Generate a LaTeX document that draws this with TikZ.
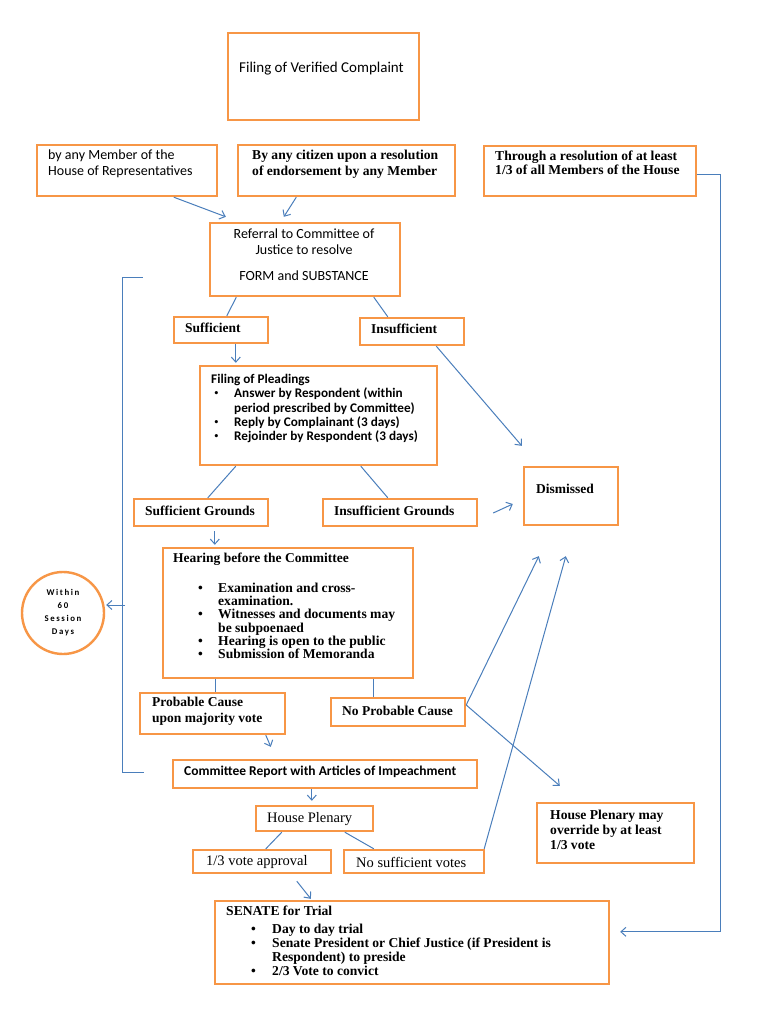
\documentclass[tikz,border=0pt]{standalone}
\usepackage{fontspec}
\setmainfont{Liberation Serif}
\newfontfamily\carlito{Carlito}
\usetikzlibrary{arrows.meta,calc,fit}
\definecolor{obox}{HTML}{F79646}
\definecolor{bline}{HTML}{4A7EBB}
\newcommand\fs[2]{\fontsize{#1}{#2}\selectfont}
\newcommand\bul[1]{\makebox[#1][l]{\textbullet}}
\newcommand\sbul[1]{\makebox[#1][l]{{\rmfamily\mdseries\textbullet}}}
\tikzset{
  box/.style={draw=obox, line width=2.4pt, inner sep=0pt},
  conn/.style={draw=bline, line width=1pt},
  arr/.style={conn, -{Straight Barb[length=5pt,width=9pt]}},
  txt/.style={anchor=west, inner sep=0pt, align=left},
}
\begin{document}
\begin{tikzpicture}[x=1pt,y=-1pt]
\fill[white] (0,0) rectangle (768,1024);
\useasboundingbox (0,0) rectangle (768,1024);

% ---------------- boxes ----------------
\node[box, fit={(228,33)(419,120)}] (fvc) {};
\node[box, fit={(37,145)(217,196)}] (m1) {};
\node[box, fit={(238,145)(455,196)}] (m2) {};
\node[box, fit={(484,146)(696,196)}] (m3) {};
\node[box, fit={(210,223)(400,296)}] (ref) {};
\node[box, fit={(174,317)(268,343)}] (suf) {};
\node[box, fit={(360,318)(464,345)}] (ins) {};
\node[box, fit={(200,366)(437,465)}] (plead) {};
\node[box, fit={(134,499)(268,526)}] (sg) {};
\node[box, fit={(323,499)(477,526)}] (ig) {};
\node[box, fit={(524,467)(618,525)}] (dis) {};
\node[box, fit={(163,548)(413,678)}] (hear) {};
\node[box, fit={(140,693)(285,734)}] (pc) {};
\node[box, fit={(331,698)(465,726)}] (npc) {};
\node[box, fit={(173,760)(477,788)}] (cr) {};
\node[box, fit={(256,806)(373,831)}] (hp) {};
\node[box, fit={(193,850)(331,873)}] (va) {};
\node[box, fit={(344,850)(484,873)}] (nsv) {};
\node[box, fit={(537,803)(694,863)}] (ovr) {};
\node[box, fit={(215,901)(609,984)}] (sen) {};
\node[circle, draw=obox, line width=2.4pt, minimum size=82pt, inner sep=0pt,
      align=center, font=\carlito\bfseries\addfontfeature{LetterSpace=18}\fs{8.8}{13}]
      (circ) at (63,613) {Within\\60\\Session\\Days};

% ---------------- texts ----------------
\node[txt, font=\carlito\fs{15}{17}] (tfvc) at (239,69) {Filing of Verified Complaint};
\node[txt, font=\carlito\fs{14}{16}] (tm1) at (48,164) {by any Member of the\\House of Representatives};
\node[txt, font=\bfseries\fs{13.6}{16}] (tm2) at (252,164) {By any citizen upon a resolution\\of endorsement by any Member};
\node[txt, font=\bfseries\fs{13.6}{12.5}] (tm3) at (495,163) {Through a resolution of at least\\1/3 of all Members of the House};
\node[align=center, inner sep=0pt, font=\carlito\fs{14}{16}] (tref) at (304,255)
     {Referral to Committee of\\Justice to resolve\\[10pt]FORM and SUBSTANCE};
\node[txt, font=\bfseries\fs{13.5}{16}] (tsuf) at (185,328) {Sufficient};
\node[txt, font=\bfseries\fs{13.5}{16}] (tins) at (371,329) {Insufficient};
\node[txt, font=\carlito\bfseries\fs{13.2}{14.3}] (tplead) at (211,408.5)
     {Filing of Pleadings\\
      \hspace*{3pt}\sbul{20pt}Answer by Respondent (within\\
      \hspace*{23pt}period prescribed by Committee)\\
      \hspace*{3pt}\sbul{20pt}Reply by Complainant (3 days)\\
      \hspace*{3pt}\sbul{20pt}Rejoinder by Respondent (3 days)};
\node[txt, font=\bfseries\fs{13.5}{16}] (tsg) at (145,511) {Sufficient Grounds};
\node[txt, font=\bfseries\fs{13.5}{16}] (tig) at (334,511) {Insufficient Grounds};
\node[txt, font=\bfseries\fs{13.5}{16}] (tdis) at (536,489) {Dismissed};
\node[txt, font=\bfseries\fs{13.5}{16}] (thear) at (173,559) {Hearing before the Committee};
\node[txt, font=\bfseries\fs{13.6}{13.3}] (thearb) at (198,621)
     {\bul{20pt}Examination and cross-\\
      \hspace*{20pt}examination.\\
      \bul{20pt}Witnesses and documents may\\
      \hspace*{20pt}be subpoenaed\\
      \bul{20pt}Hearing is open to the public\\
      \bul{20pt}Submission of Memoranda};
\node[txt, font=\bfseries\fs{13.5}{16}] (tpc) at (152,711) {Probable Cause\\upon majority vote};
\node[txt, font=\bfseries\fs{13.5}{16}] (tnpc) at (342,711) {No Probable Cause};
\node[txt, font=\carlito\bfseries\fs{13.5}{16}] (tcr) at (184,772) {Committee Report with Articles of Impeachment};
\node[txt, font=\fs{14.5}{16}] (thp) at (267,819) {House Plenary};
\node[txt, font=\fs{14.5}{16}] (tva) at (206,862) {1/3 vote approval};
\node[txt, font=\fs{14.5}{16}] (tnsv) at (356,862) {No sufficient votes};
\node[txt, font=\bfseries\fs{13.6}{15}] (tovr) at (550,830) {House Plenary may\\override by at least\\1/3 vote};
\node[txt, font=\bfseries\fs{13.6}{14}] (tsen) at (226,911) {SENATE for Trial};
\node[txt, font=\bfseries\fs{13.6}{14}] (tsenb) at (251,950)
     {\bul{21pt}Day to day trial\\
      \bul{21pt}Senate President or Chief Justice (if President is\\
      \hspace*{21pt}Respondent) to preside\\
      \bul{21pt}2/3 Vote to convict};

% ---------------- connectors ----------------
\draw[arr] ($(m1.south west)+(138,0)$) -- ($(ref.north west)+(17,-5)$);
\draw[arr] ($(m2.south west)+(59.5,0)$) -- ($(ref.north west)+(75,-5)$);
\draw[arr] ($(m3.north east)+(0,30)$) -- ++(23,0) |- ($(sen.north east)+(10,32)$);
\draw[conn] ($(ref.south west)+(27.5,0)$) -- ($(suf.north west)+(54,0)$);
\draw[conn] ($(ref.south west)+(165,0)$) -- ($(ins.north west)+(29,0)$);
\draw[arr] ($(suf.south west)+(63,0)$) -- ($(plead.north west)+(37,-2)$);
\draw[arr] ($(ins.south west)+(77.5,0)$) -- ($(dis.north west)+(-1,-20)$);
\draw[conn] ($(plead.south west)+(37,0)$) -- ($(sg.north west)+(75,0)$);
\draw[conn] ($(plead.south west)+(162,0)$) -- ($(ig.north west)+(66,0)$);
\draw[arr] ($(ig.east)+(15,0.5)$) -- ($(dis.west)+(-10,8)$);
\draw[arr] ($(sg.south west)+(82,4)$) -- ($(hear.north west)+(53,-2)$);
\draw[conn] ($(ref.west)+(-66,17.5)$) -| ($(cr.west)+(-49,-2)$) -- ($(cr.west)+(-28,-2)$);
\draw[arr] ($(circ.east)+(20,-8)$) -- ($(circ.east)+(1,-8)$);
\draw[conn] ($(hear.south west)+(54,0)$) -- ($(pc.north west)+(77,0)$);
\draw[conn] ($(hear.south west)+(212,0)$) -- ($(npc.north west)+(44,0)$);
\draw[arr] ($(pc.south west)+(127,0)$) -- ($(cr.north west)+(99,-12)$);
\draw[arr] ($(npc.east)+(0,-7)$) -- ($(dis.south west)+(16,30)$);
\draw[arr] ($(npc.east)+(0,-7)$) -- ($(ovr.north west)+(24,-16)$);
\draw[arr] ($(cr.south west)+(140,0)$) -- ($(hp.north west)+(57,-4)$);
\draw[conn] ($(hp.south west)+(27,0)$) -- ($(va.north west)+(74,0)$);
\draw[conn] ($(hp.south west)+(90,0)$) -- ($(nsv.north west)+(31,0)$);
\draw[arr] ($(va.south west)+(105,7)$) -- ($(sen.north west)+(97,-1)$);
\draw[arr] ($(nsv.north east)+(-1,0)$) -- ($(dis.south west)+(43,30)$);
\end{tikzpicture}
\end{document}
